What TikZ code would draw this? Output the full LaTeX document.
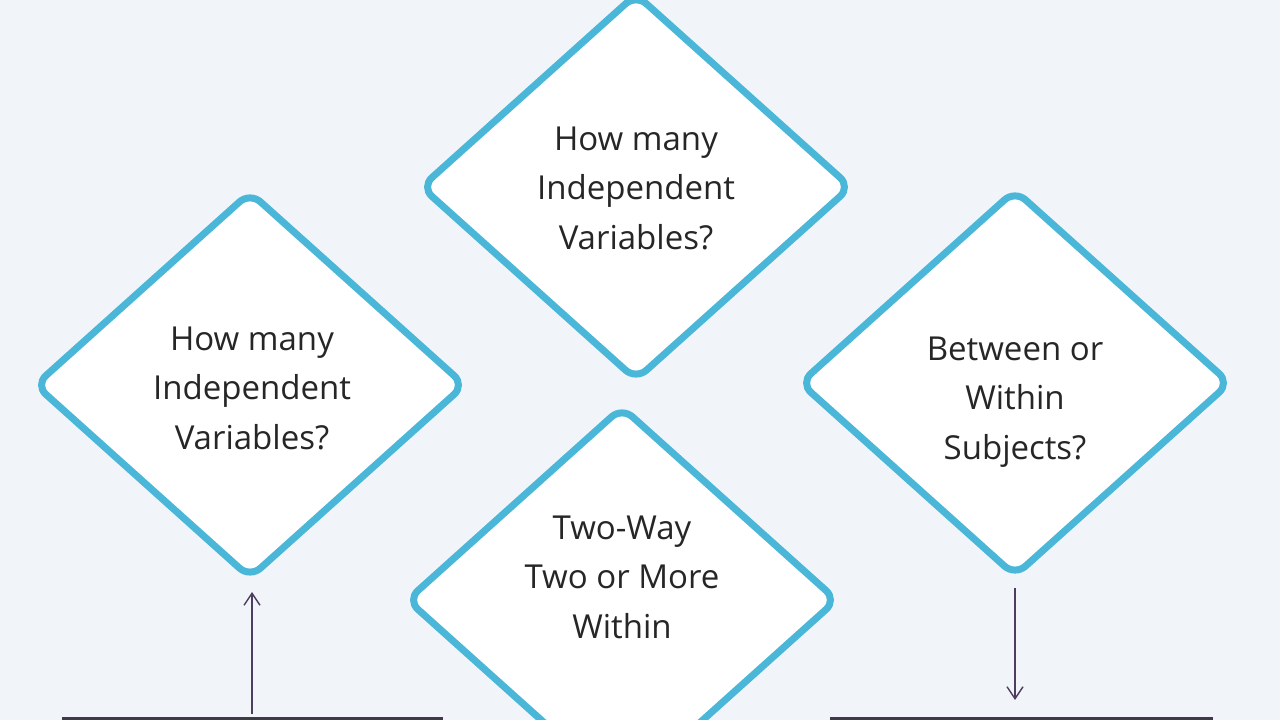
\documentclass[tikz,border=0pt]{standalone}
\usepackage{fontspec}
\setmainfont{Open Sans}
\usetikzlibrary{shapes.geometric,arrows.meta}
\definecolor{bg}{HTML}{F1F5FA}
\definecolor{dia}{HTML}{4AB6D8}
\definecolor{arr}{HTML}{4E3D5E}
\definecolor{boxc}{HTML}{3E3A48}
\tikzset{
 dec/.style={diamond,draw=dia,line width=7pt,fill=white,rounded corners=14pt,
  minimum width=432pt,minimum height=388pt,inner sep=0pt},
 txt/.style={align=center,font=\fontsize{33}{49.5}\selectfont,text=black!85},
 con/.style={draw=arr,line width=1.4pt,-{Straight Barb[length=12pt,width=16pt]}},
 base/.style={draw=boxc,line width=3pt,fill=white}
}
\begin{document}
\begin{tikzpicture}[x=1pt,y=1pt]
\useasboundingbox (0,0) rectangle (1280,720);
\fill[bg] (0,0) rectangle (1280,720);
\begin{scope}
\clip (0,0) rectangle (1280,720);
\node[dec] (top) at (636,533) {};
\node[txt] (toptxt) at (636,532) {How many\\Independent\\Variables?};
\node[dec] (left) at (250,335) {};
\node[txt] (lefttxt) at (252,332) {How many\\Independent\\Variables?};
\node[dec] (right) at (1015,337) {};
\node[txt] (righttxt) at (1015,318) {Between or\\Within\\Subjects?};
\node[dec] (bot) at (622,120) {};
\node[txt] (bottxt) at (622,143) {Two-Way\\Two or More\\Within};
\node[base,minimum width=378pt,minimum height=20pt,anchor=north west] (lb) at (62,3) {};
\node[base,minimum width=380pt,minimum height=20pt,anchor=north west] (rb) at (830,3) {};
\end{scope}
\coordinate (ls) at (252,6);
\coordinate (le) at (252,128);
\coordinate (rs) at (1015,132);
\coordinate (re) at (1015,20);
\draw[con] (ls) -- (le);
\draw[con] (rs) -- (re);
\end{tikzpicture}
\end{document}
